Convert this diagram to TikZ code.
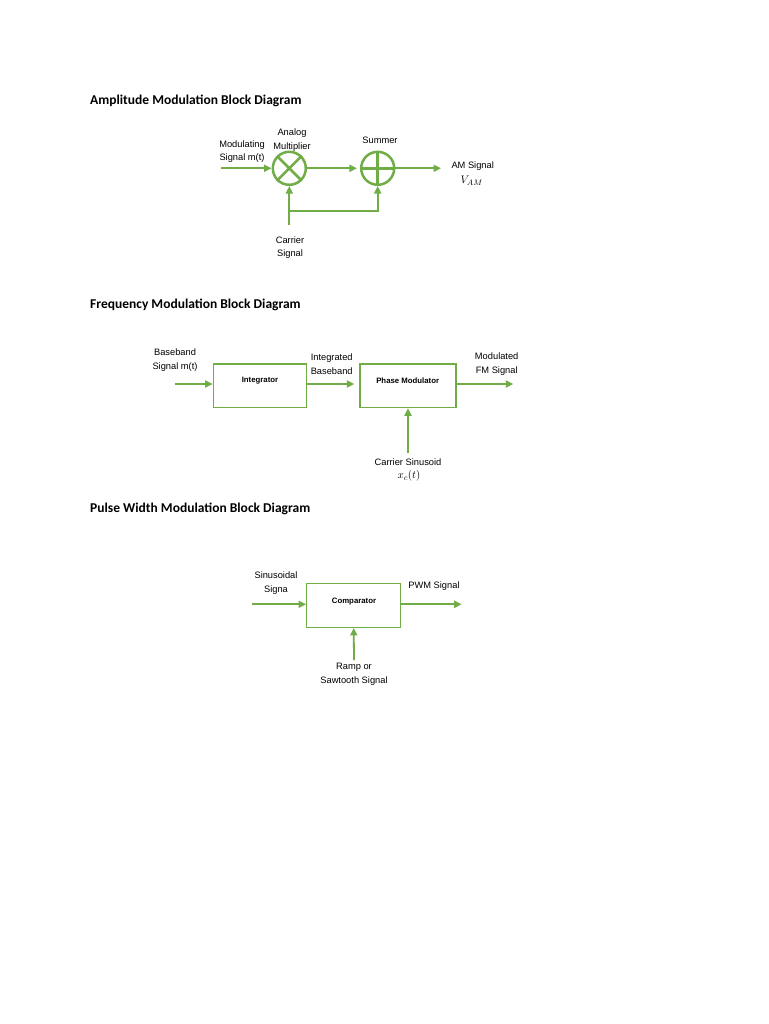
\documentclass[tikz,border=0pt]{standalone}
\usepackage{fontspec}
\setmainfont{Liberation Sans}
\newfontfamily\titlefont{Carlito}
\usetikzlibrary{arrows.meta}
\definecolor{gr}{HTML}{70AD47}
\begin{document}
\begin{tikzpicture}[x=1pt,y=-1pt,
 conn/.style={draw=gr,line width=1.8pt,-{Triangle[length=7.5pt,width=7pt]}},
 lbl/.style={font=\fontsize{9.3}{13.5}\selectfont,align=center,inner sep=0pt},
 mlbl/.style={font=\fontsize{11}{13}\selectfont,inner sep=0pt},
 ttl/.style={font=\titlefont\bfseries\fontsize{13.5}{16}\selectfont,anchor=west,inner sep=0pt},
 opcirc/.style={circle,draw=gr,line width=2.5pt,minimum size=33pt,inner sep=0pt},
 blk/.style={draw=gr,line width=1.3pt,inner sep=0pt},
 blktxt/.style={font=\bfseries\fontsize{7.8}{9}\selectfont,inner sep=0pt},
]
\useasboundingbox[fill=white] (0,0) rectangle (768,1024);

% ---------------- AM ----------------
\node[ttl] (t1) at (90,101) {Amplitude Modulation Block Diagram};
\node[opcirc] (mul) at (289.3,168.3) {};
\draw[gr,line width=2.5pt] (mul.north west) -- (mul.south east) (mul.north east) -- (mul.south west);
\node[opcirc] (sum) at (377.7,168.3) {};
\draw[gr,line width=2.5pt] (sum.north) -- (sum.south) (sum.west) -- (sum.east);
\coordinate (amin) at (221,168.3);
\coordinate (amout) at (441,168.3);
\coordinate (carr) at (289.3,225);
\coordinate (junc) at (289.3,211);
\draw[conn] (amin) -- (mul);
\draw[conn,shorten >=3pt] (mul) -- (sum);
\draw[conn] (sum) -- (amout);
\draw[conn] (carr) -- (mul.south);
\draw[conn] (junc) -| (sum.south);
\node[lbl] (lmod) at (242,151.5) {Modulating\\Signal m(t)};
\node[lbl] (lana) at (292,140) {Analog\\Multiplier};
\node[lbl] (lsum) at (380,140) {Summer};
\node[lbl] (lam) at (472.7,165.7) {AM Signal};
\node[mlbl] (lvam) at (471.7,181) {$V_{AM}$};
\node[lbl] (lcar) at (290,247.5) {Carrier\\Signal};

% ---------------- FM ----------------
\node[ttl] (t2) at (90,305) {Frequency Modulation Block Diagram};
\node[blk,minimum width=93.4pt,minimum height=43.3pt] (integ) at (260,385.7) {};
\node[blktxt] (integt) at (260,380.7) {Integrator};
\node[blk,minimum width=96pt,minimum height=43.7pt] (pm) at (408,385.8) {};
\node[blktxt] (pmt) at (407.7,380.7) {Phase Modulator};
\coordinate (fmin) at (175,384);
\coordinate (fmout) at (513.3,384);
\coordinate (fmcar) at (408,453);
\draw[conn] (fmin) -- (fmin -| integ.west);
\draw[conn,shorten >=5pt] (integ.east |- fmin) -- (fmin -| pm.west);
\draw[conn] (pm.east |- fmin) -- (fmout);
\draw[conn] (fmcar) -- (pm.south);
\node[lbl] (lbb) at (175,360.3) {Baseband\\Signal m(t)};
\node[lbl] (lib) at (331.7,364.3) {Integrated\\Baseband};
\node[lbl] (lfm) at (496.7,364.3) {Modulated\\FM Signal};
\node[lbl] (lcs) at (408,461.7) {Carrier Sinusoid};
\node[mlbl] (lxc) at (409,476) {$x_c(t)$};

% ---------------- PWM ----------------
\node[ttl] (t3) at (90,509) {Pulse Width Modulation Block Diagram};
\node[blk,minimum width=94pt,minimum height=44pt] (comp) at (353.7,605.3) {};
\node[blktxt] (compt) at (354,601.7) {Comparator};
\coordinate (pwin) at (251.7,604.3);
\coordinate (pwout) at (461.7,604.3);
\coordinate (ramp) at (354,660);
\draw[conn] (pwin) -- (pwin -| comp.west);
\draw[conn] (comp.east |- pwin) -- (pwout);
\draw[conn] (ramp) -- (comp.south);
\node[lbl] (lsin) at (276,583) {Sinusoidal\\Signa};
\node[lbl] (lpwm) at (434,586) {PWM Signal};
\node[lbl] (lramp) at (354,674.3) {Ramp or\\Sawtooth Signal};
\end{tikzpicture}
\end{document}
